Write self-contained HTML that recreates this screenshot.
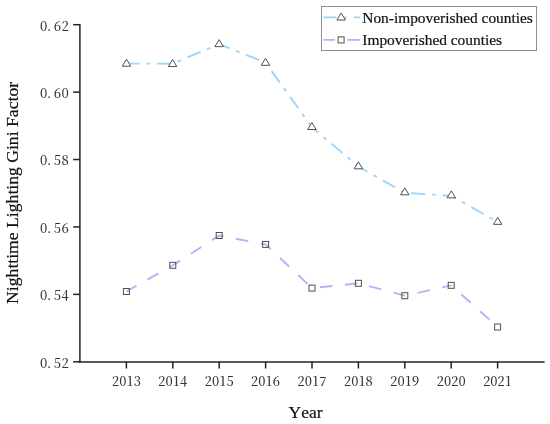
<!DOCTYPE html>
<html lang="en"><head><meta charset="utf-8"><title>Nighttime Lighting Gini Factor</title>
<style>
html,body{margin:0;padding:0;background:#fff}
svg{display:block}
.serif{font-family:"Liberation Serif",serif;font-kerning:none;stroke:#111;stroke-width:0.2px}
.tick{font-family:"Noto Serif CJK SC","Liberation Serif",serif;font-size:13.3px;font-weight:500;fill:#333}
</style></head><body>
<svg width="550" height="424" viewBox="0 0 550 424">
<rect width="550" height="424" fill="#fff"/>
<g stroke="#222" stroke-width="1.5" fill="none" stroke-linecap="butt">
<path d="M79.9 23.95V362.55"/>
<path d="M79.15 361.95H544.6"/>
<path d="M73.2 24.70H79.9"/>
<path d="M73.2 92.12H79.9"/>
<path d="M73.2 159.54H79.9"/>
<path d="M73.2 226.96H79.9"/>
<path d="M73.2 294.38H79.9"/>
<path d="M73.2 361.80H79.9"/>
<path d="M126.40 361.8V368.5"/>
<path d="M172.80 361.8V368.5"/>
<path d="M219.20 361.8V368.5"/>
<path d="M265.60 361.8V368.5"/>
<path d="M312.00 361.8V368.5"/>
<path d="M358.40 361.8V368.5"/>
<path d="M404.80 361.8V368.5"/>
<path d="M451.20 361.8V368.5"/>
<path d="M497.60 361.8V368.5"/>
</g>
<g class="tick">
<text transform="scale(0.97 1)" x="41.24 48.45 55.46 63.51" y="30.60">0.62</text>
<text transform="scale(0.97 1)" x="41.24 48.45 55.46 63.51" y="98.02">0.60</text>
<text transform="scale(0.97 1)" x="41.24 48.45 55.46 63.51" y="165.44">0.58</text>
<text transform="scale(0.97 1)" x="41.24 48.45 55.46 63.51" y="232.86">0.56</text>
<text transform="scale(0.97 1)" x="41.24 48.45 55.46 63.51" y="300.28">0.54</text>
<text transform="scale(0.97 1)" x="41.24 48.45 55.46 63.51" y="367.70">0.52</text>
<text transform="scale(0.97 1)" x="130.31" y="386" text-anchor="middle">2013</text>
<text transform="scale(0.97 1)" x="178.14" y="386" text-anchor="middle">2014</text>
<text transform="scale(0.97 1)" x="225.98" y="386" text-anchor="middle">2015</text>
<text transform="scale(0.97 1)" x="273.81" y="386" text-anchor="middle">2016</text>
<text transform="scale(0.97 1)" x="321.65" y="386" text-anchor="middle">2017</text>
<text transform="scale(0.97 1)" x="369.48" y="386" text-anchor="middle">2018</text>
<text transform="scale(0.97 1)" x="417.32" y="386" text-anchor="middle">2019</text>
<text transform="scale(0.97 1)" x="465.15" y="386" text-anchor="middle">2020</text>
<text transform="scale(0.97 1)" x="512.99" y="386" text-anchor="middle">2021</text>
</g>
<text class="serif" x="288.5" y="418.3" font-size="17.55" fill="#111">Year</text>
<text class="serif" transform="translate(18.4 192.9) rotate(-90)" text-anchor="middle" font-size="17.65" fill="#111">Nighttime Lighting Gini Factor</text>
<polyline points="126.5,63.6 172.6,63.7 219.1,44.1 265.5,62.6 311.9,127.2 358.4,166.5 404.8,192.9 451.3,195.8 497.7,222.0" fill="none" stroke="#9cd7f8" stroke-width="1.9" stroke-dasharray="14.2 6.8 3.8 6.8" stroke-dashoffset="1"/>
<g fill="none" stroke="#b3b2fa" stroke-width="1.9" stroke-dasharray="12.5 12.70">
<line x1="126.4" y1="291.5" x2="172.8" y2="265.3" stroke-dashoffset="0.90"/>
<line x1="172.8" y1="265.3" x2="219.2" y2="235.5" stroke-dashoffset="3.79"/>
<line x1="219.2" y1="235.5" x2="265.6" y2="244.4" stroke-dashoffset="8.13"/>
<line x1="265.6" y1="244.4" x2="312.0" y2="288.1" stroke-dashoffset="5.38"/>
<line x1="312.0" y1="288.1" x2="358.4" y2="283.3" stroke-dashoffset="17.22"/>
<line x1="358.4" y1="283.3" x2="404.8" y2="295.7" stroke-dashoffset="14.06"/>
<line x1="404.8" y1="295.7" x2="451.2" y2="285.35" stroke-dashoffset="11.99"/>
<line x1="451.2" y1="285.35" x2="497.6" y2="327.0" stroke-dashoffset="11.53"/>
</g>
<g fill="#fff" stroke="#505050" stroke-width="1" stroke-linejoin="miter">
<path d="M126.50 59.23L130.75 66.23H122.25Z"/>
<path d="M172.60 59.53L176.85 66.53H168.35Z"/>
<path d="M219.10 39.63L223.35 46.63H214.85Z"/>
<path d="M265.50 58.33L269.75 65.33H261.25Z"/>
<path d="M311.90 122.53L316.15 129.53H307.65Z"/>
<path d="M358.40 161.83L362.65 168.83H354.15Z"/>
<path d="M404.80 187.83L409.05 194.83H400.55Z"/>
<path d="M451.30 190.83L455.55 197.83H447.05Z"/>
<path d="M497.70 217.33L501.95 224.33H493.45Z"/>
</g>
<g fill="none" stroke="#505050" stroke-width="1">
<rect x="123.40" y="288.50" width="6.0" height="6.0"/>
<rect x="169.80" y="262.30" width="6.0" height="6.0"/>
<rect x="216.20" y="232.50" width="6.0" height="6.0"/>
<rect x="262.60" y="241.40" width="6.0" height="6.0"/>
<rect x="309.00" y="285.10" width="6.0" height="6.0"/>
<rect x="355.40" y="280.30" width="6.0" height="6.0"/>
<rect x="401.80" y="292.70" width="6.0" height="6.0"/>
<rect x="448.20" y="282.35" width="6.0" height="6.0"/>
<rect x="494.60" y="324.00" width="6.0" height="6.0"/>
</g>
<rect x="321.5" y="6.5" width="215" height="44" fill="#fff" stroke="#909090" stroke-width="1"/>
<path d="M323.3 17.4H360" fill="none" stroke="#9cd7f8" stroke-width="1.9" stroke-dasharray="14.2 6.8 3.8 6.8" stroke-dashoffset="1"/>
<path d="M323.3 39.9H360" fill="none" stroke="#b3b2fa" stroke-width="1.9" stroke-dasharray="12.5 12.65" stroke-dashoffset="0.9"/>
<g fill="#fff" stroke="#505050" stroke-width="1"><path d="M341.20 13.03L345.45 20.03H336.95Z"/></g>
<rect x="338.10" y="36.90" width="6.0" height="6.0" fill="none" stroke="#505050" stroke-width="1"/>
<g class="serif" font-size="15.4" fill="#111">
<text x="362.3" y="22.5">Non-impoverished counties</text>
<text x="362.3" y="44.7">Impoverished counties</text>
</g>
</svg></body></html>
